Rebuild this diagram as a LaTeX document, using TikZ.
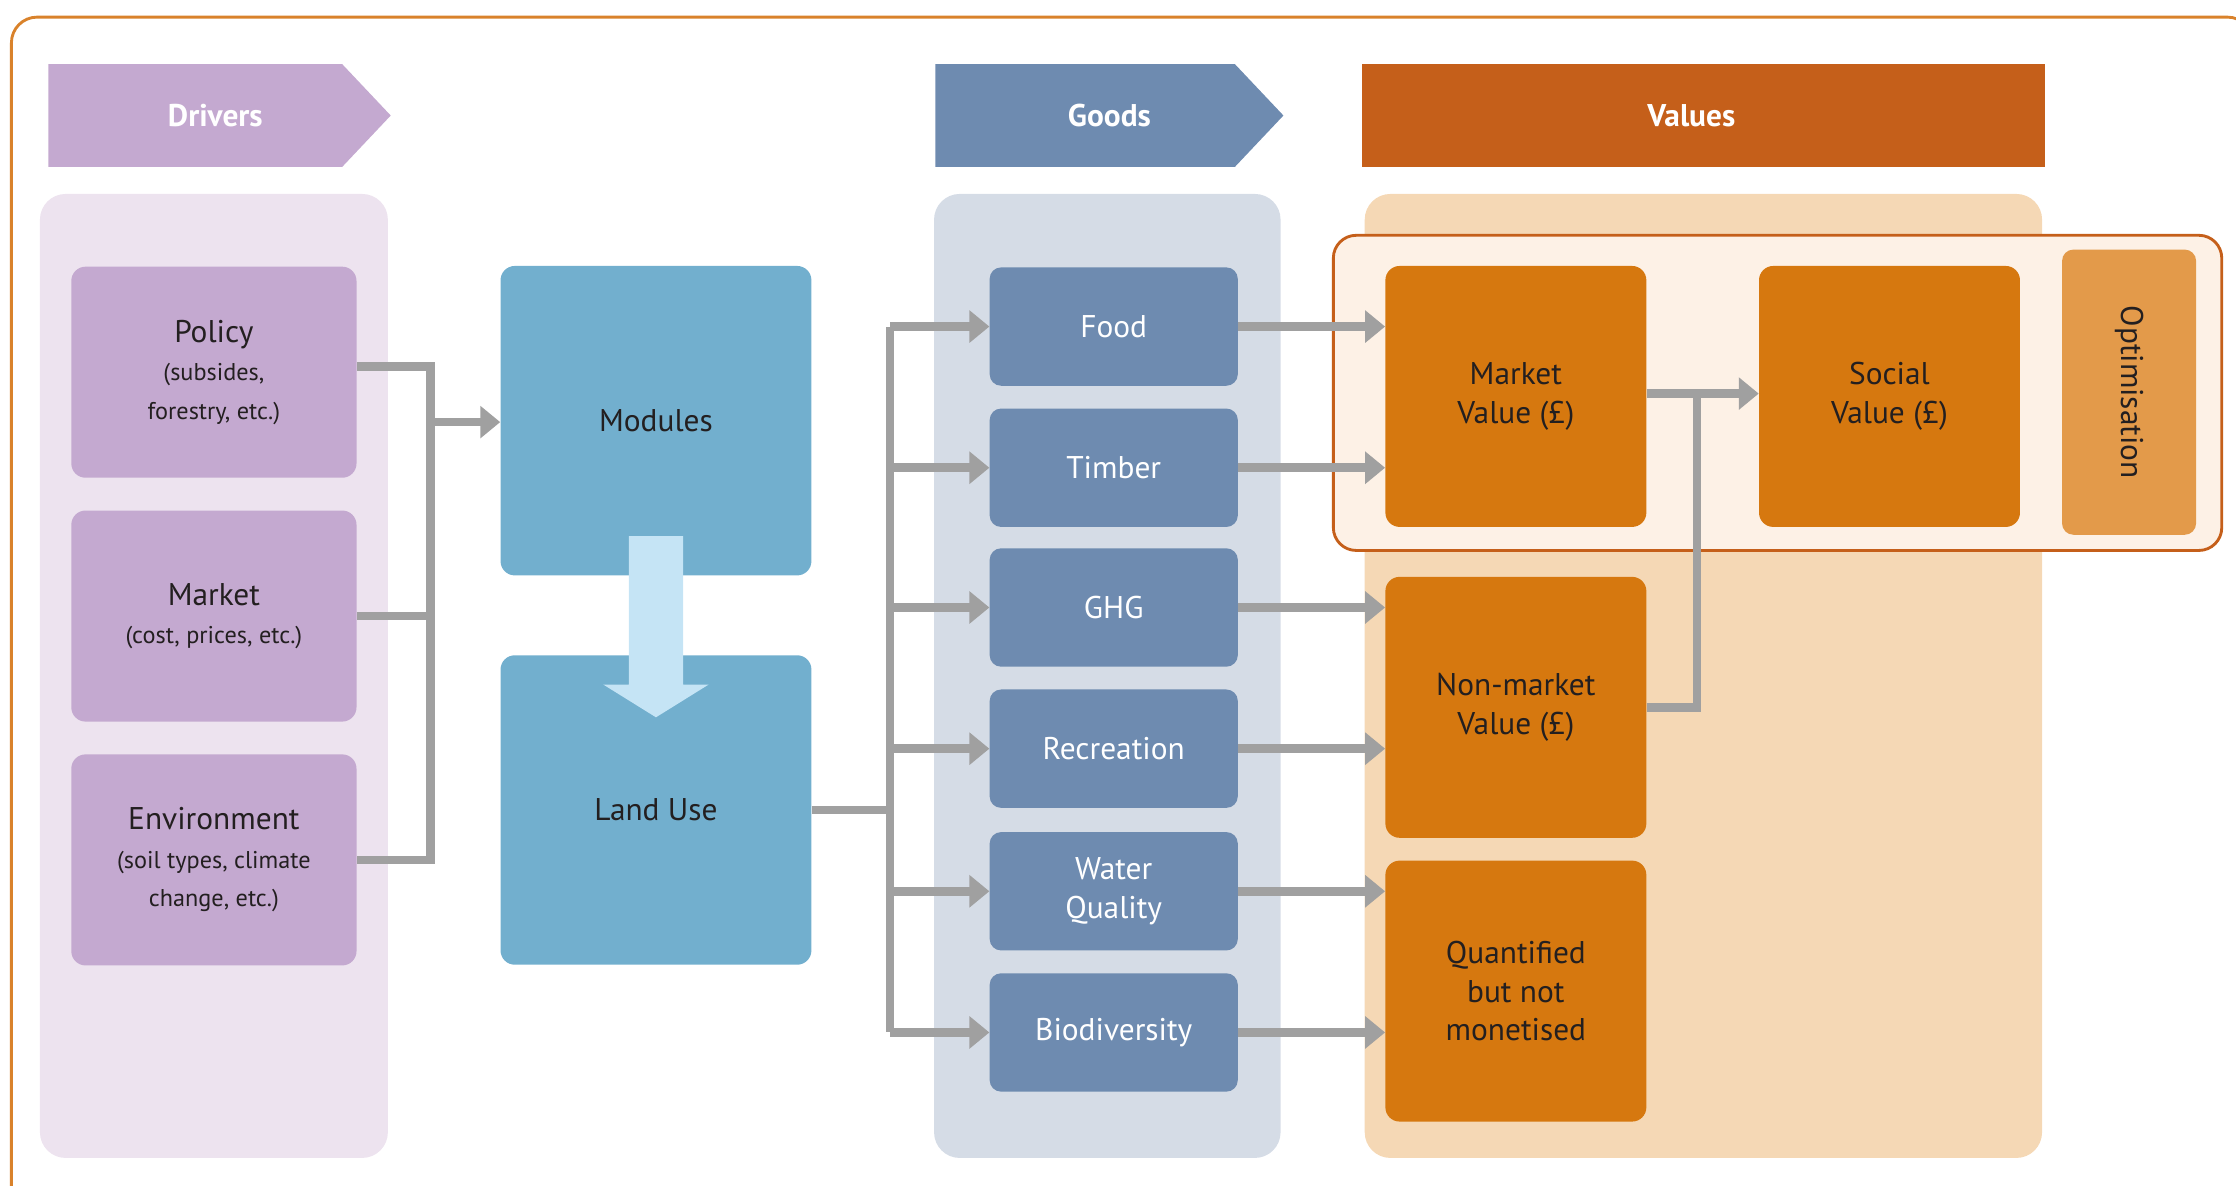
\documentclass[tikz,border=0pt]{standalone}
\usepackage{fontspec}
\setmainfont{PT Sans}
\usetikzlibrary{arrows.meta,calc}
\definecolor{drv}{HTML}{C4A9D0}
\definecolor{drvbg}{HTML}{EDE3EF}
\definecolor{gds}{HTML}{6E8BB0}
\definecolor{gdsbg}{HTML}{D5DCE6}
\definecolor{valh}{HTML}{C55F1A}
\definecolor{valbg}{HTML}{F5D8B5}
\definecolor{mod}{HTML}{72AFCE}
\definecolor{org}{HTML}{D6780F}
\definecolor{opt}{HTML}{E39A4A}
\definecolor{hl}{HTML}{FDF1E6}
\definecolor{frame}{HTML}{D9822B}
\definecolor{con}{HTML}{A0A0A0}
\definecolor{txt}{HTML}{231F20}
\definecolor{lblue}{HTML}{C5E4F5}
\newcommand\subfnt{\fontsize{17}{24}\selectfont}
\begin{document}
\begin{tikzpicture}[x=1pt,y=-1pt,
  box/.style={rounded corners=10pt,draw=none,align=center,text=txt,font=\fontsize{22}{27}\selectfont,inner sep=0pt},
  conn/.style={draw=con,line width=6pt},
  arr/.style={conn,-{Triangle[length=14pt,width=22pt]}},
  hdr/.style={text=white,font=\fontsize{22}{26}\selectfont\bfseries}]
\useasboundingbox (0,0) rectangle (1568,831);
\draw[frame,line width=2pt,rounded corners=18pt] (8,12) rectangle (1580,850);
% headers
\fill[drv] (34,45) -- (240,45) -- (274,81) -- (240,117) -- (34,117) -- cycle;
\node[hdr] (hd) at (151,81) {Drivers};
\fill[gds] (656,45) -- (866,45) -- (900,81) -- (866,117) -- (656,117) -- cycle;
\node[hdr] (hg) at (778,81) {Goods};
\fill[valh] (955,45) rectangle (1434,117);
\node[hdr] (hv) at (1186,81) {Values};
% panels
\fill[drvbg,rounded corners=18pt] (28,136) rectangle (272,812);
\fill[gdsbg,rounded corners=18pt] (655,136) rectangle (898,812);
\fill[valbg,rounded corners=18pt] (957,136) rectangle (1432,812);
\filldraw[fill=hl,draw=valh,line width=2pt,rounded corners=16pt] (935,165) rectangle (1558,386);
% drivers
\node[box,fill=drv,minimum width=200pt,minimum height=148pt] (pol) at (150,261) {Policy\\ \subfnt (subsides,\\ \subfnt forestry, etc.)};
\node[box,fill=drv,minimum width=200pt,minimum height=148pt] (mkt) at (150,432) {Market\\ \subfnt (cost, prices, etc.)};
\node[box,fill=drv,minimum width=200pt,minimum height=148pt] (env) at (150,603) {Environment\\ \subfnt (soil types, climate\\ \subfnt change, etc.)};
% modules
\node[box,fill=mod,minimum width=218pt,minimum height=217pt] (modu) at (460,295) {Modules};
\node[box,fill=mod,minimum width=218pt,minimum height=217pt] (lu) at (460,568) {Land Use};
\fill[lblue] (441,376) -- (479,376) -- (479,480) -- (497,480) -- (460,503) -- (423,480) -- (441,480) -- cycle;
% goods
\foreach \n/\t/\y in {food/Food/229,timb/Timber/328,ghg/GHG/426,rec/Recreation/525,wat/{Water\\Quality}/625,bio/Biodiversity/724}{
  \node[box,fill=gds,text=white,minimum width=174pt,minimum height=83pt,rounded corners=8pt] (\n) at (781,\y) {\t};
}
% values
\node[box,fill=org,minimum width=183pt,minimum height=183pt] (mv) at (1063,278) {Market\\Value (£)};
\node[box,fill=org,minimum width=183pt,minimum height=183pt] (nm) at (1063,496) {Non-market\\Value (£)};
\node[box,fill=org,minimum width=183pt,minimum height=183pt] (qn) at (1063,695) {Quantified\\but not\\monetised};
\node[box,fill=org,minimum width=183pt,minimum height=183pt] (sv) at (1325,278) {Social\\Value (£)};
\node[box,fill=opt,minimum width=94pt,minimum height=200pt,rounded corners=8pt] (op) at (1493,275) {};
\node[text=txt,font=\fontsize{22}{27}\selectfont,rotate=-90] (opt) at (op.center) {Optimisation};
% connectors drivers
\draw[conn] (pol.east|-0,257) -| (302,603) -- (env.east|-0,603);
\draw[conn] (mkt.east) -- (302,432);
\draw[arr] (302,296) -- (modu.west|-0,296);
% land use to goods
\draw[conn] (lu.east) -- (624,568);
\draw[conn] (624,229) -- (624,724);
\foreach \n in {food,timb,ghg,rec,wat,bio}{
  \draw[arr] (624,0|-\n) -- (\n.west);
}
% goods to values
\draw[arr] (food.east) -- (mv.west|-food);
\draw[arr] (timb.east) -- (mv.west|-timb);
\draw[arr] (ghg.east) -- (nm.west|-ghg);
\draw[arr] (rec.east) -- (nm.west|-rec);
\draw[arr] (wat.east) -- (qn.west|-wat);
\draw[arr] (bio.east) -- (qn.west|-bio);
% to social value
\draw[arr] (mv.east|-0,276) -- (sv.west|-0,276);
\draw[conn] (nm.east) -| (1190,276);
\end{tikzpicture}
\end{document}
